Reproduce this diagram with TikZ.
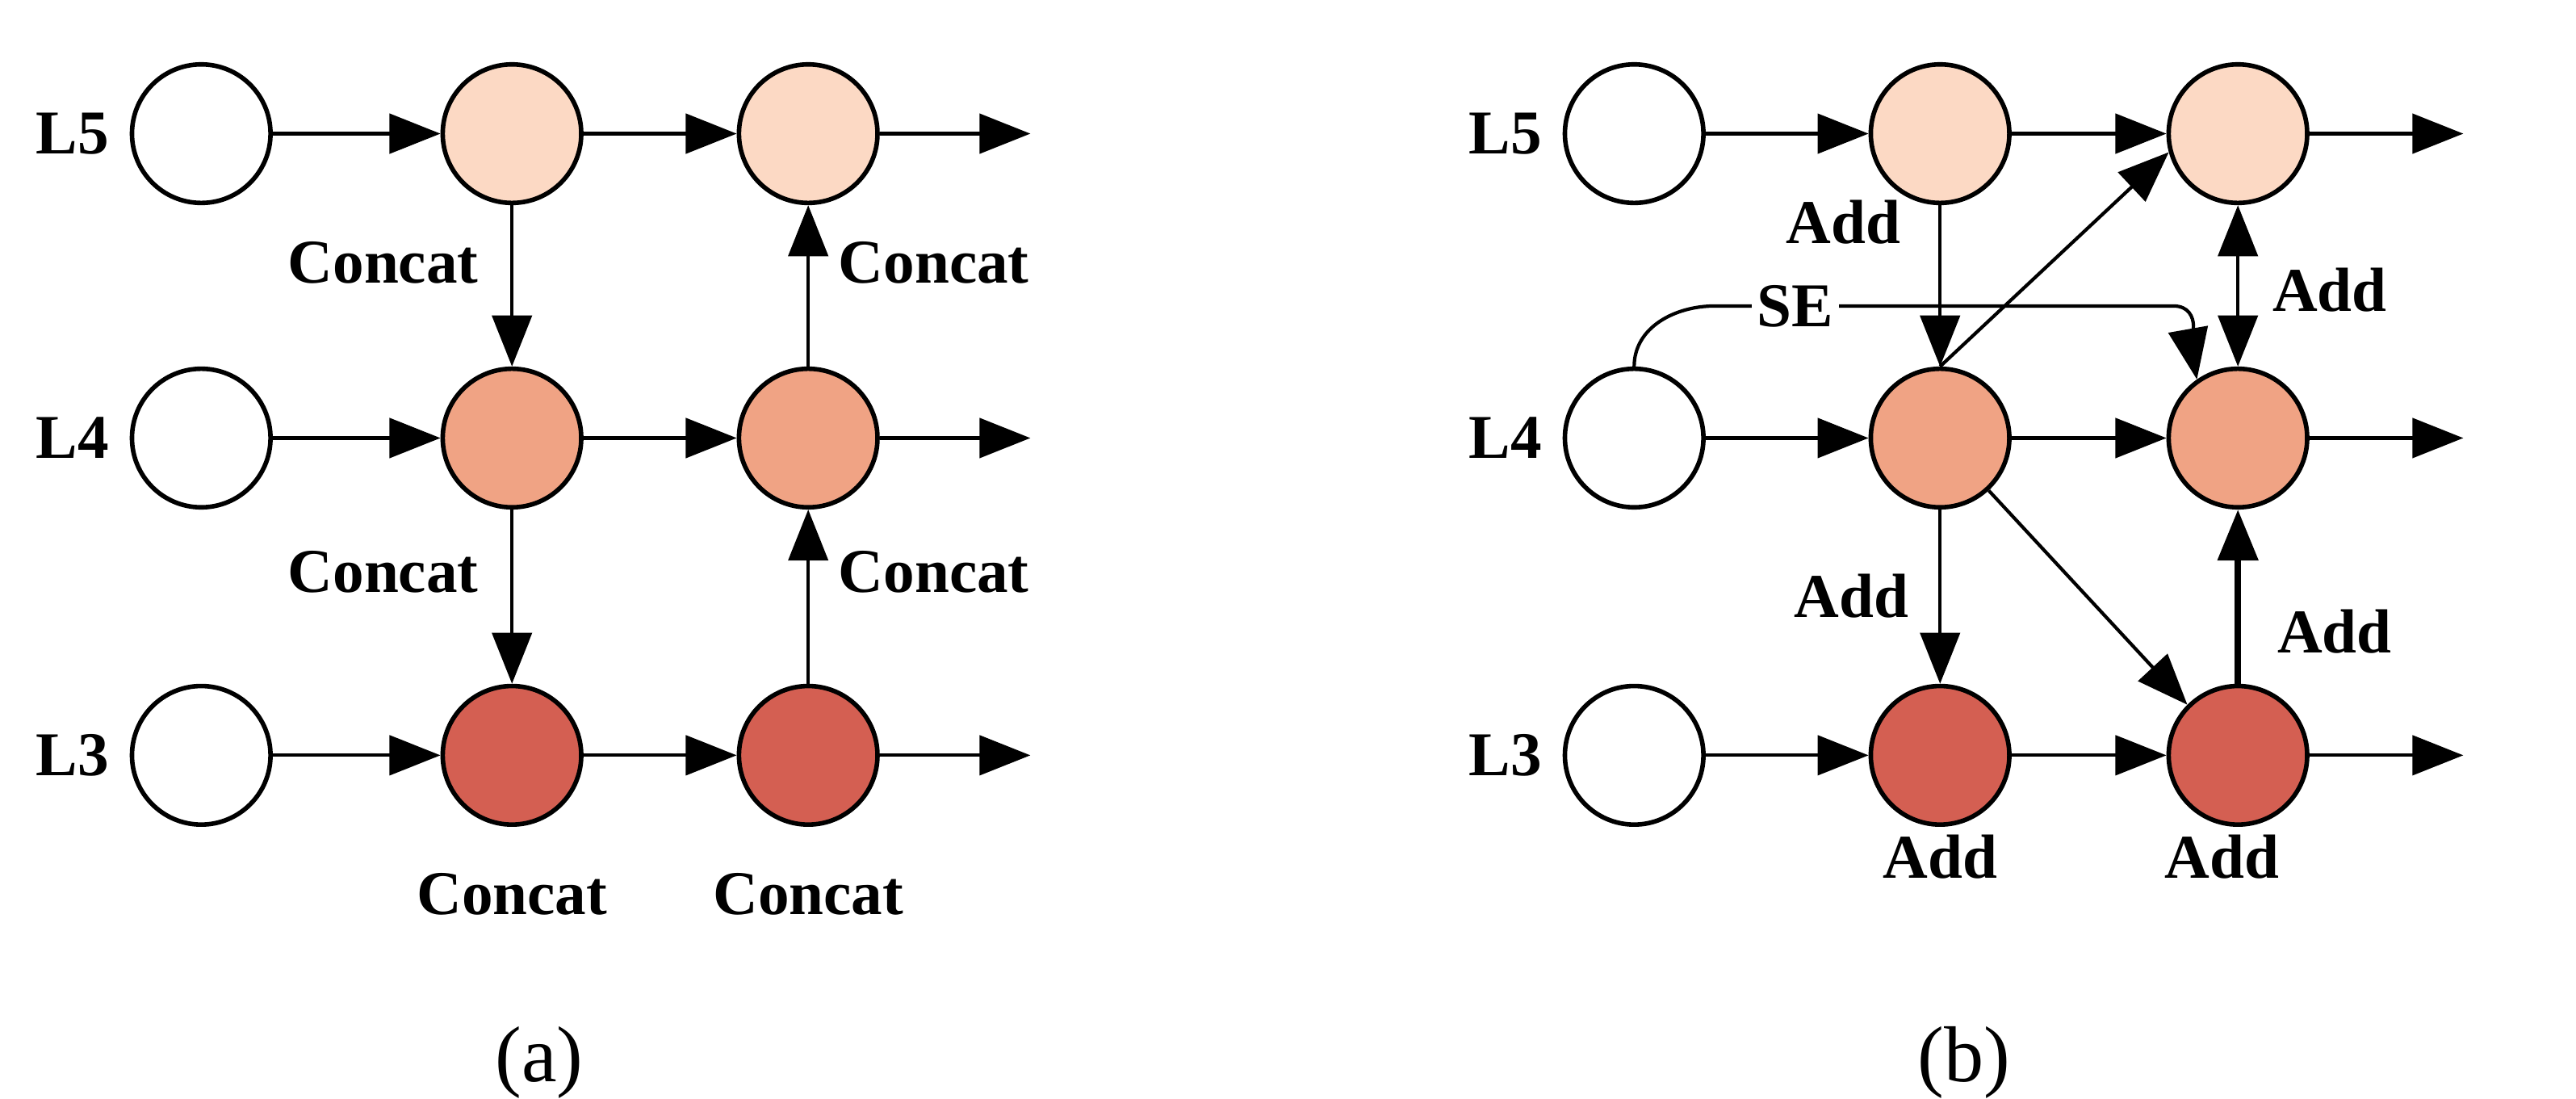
\documentclass[tikz,border=0pt]{standalone}
\usepackage{fontspec}
\setmainfont{Liberation Serif}
\usetikzlibrary{arrows.meta}
\definecolor{cfive}{HTML}{FCD9C4}
\definecolor{cfour}{HTML}{F0A384}
\definecolor{cthree}{HTML}{D45F52}
\begin{document}
\begin{tikzpicture}[x=0.01cm,y=-0.01cm]
\tikzset{
    blob/.style={circle, draw, thick, minimum size=0.86cm, inner sep=0pt},
    flow/.style={-{Triangle[length=9pt,width=7pt]}, semithick},
    lab/.style={font=\fontsize{11}{11}\selectfont\bfseries},
    sub/.style={font=\fontsize{14}{14}\selectfont}}
\useasboundingbox (0,0) rectangle (1600,682);

% left panel
\foreach \n/\y/\c in {5/83/cfive,4/272/cfour,3/469/cthree}{
    \node[lab] (aL\n) at (45,\y) {L\n};
    \node[blob] (a0\n) at (125,\y) {};
    \node[blob,fill=\c] (a1\n) at (318,\y) {};
    \node[blob,fill=\c] (a2\n) at (502,\y) {};
    \coordinate (aE\n) at (640,\y);
    \draw[flow] (a0\n) -- (a1\n);
    \draw[flow] (a1\n) -- (a2\n);
    \draw[flow] (a2\n) -- (aE\n);
}
\draw[flow] (a15) -- (a14);
\draw[flow] (a14) -- (a13);
\draw[flow] (a23) -- (a24);
\draw[flow] (a24) -- (a25);
\node[lab] (ca1) at (238,163) {Concat};
\node[lab] (ca2) at (238,355) {Concat};
\node[lab] (ca3) at (580,163) {Concat};
\node[lab] (ca4) at (580,355) {Concat};
\node[lab] (ca5) at (318,555) {Concat};
\node[lab] (ca6) at (502,555) {Concat};
\node[sub] (capa) at (335,660) {(a)};

% right panel
\foreach \n/\y/\c in {5/83/cfive,4/272/cfour,3/469/cthree}{
    \node[lab] (bL\n) at (935,\y) {L\n};
    \node[blob] (b0\n) at (1015,\y) {};
    \node[blob,fill=\c] (b1\n) at (1205,\y) {};
    \node[blob,fill=\c] (b2\n) at (1390,\y) {};
    \coordinate (bE\n) at (1530,\y);
    \draw[flow] (b0\n) -- (b1\n);
    \draw[flow] (b1\n) -- (b2\n);
    \draw[flow] (b2\n) -- (bE\n);
}
\draw[flow] (b15) -- (b14);
\draw[flow] (b14) -- (b13);
\draw[flow] (b14.north) -- (b25.-165);
\draw[flow] (b14) -- (b23.north west);
\draw[{Triangle[length=9pt,width=7pt]}-{Triangle[length=9pt,width=7pt]},semithick] (b25) -- (b24);
\draw[flow,very thick] (b23) -- (b24);
\draw[flow] (b04.north) to[out=90,in=180] (1065,190) -- (1350,190) to[out=0,in=100] (b24.125);
\node[lab,fill=white,inner sep=1pt] (se) at (1115,190) {SE};
\node[lab] (ad1) at (1145,138) {Add};
\node[lab] (ad2) at (1447,180) {Add};
\node[lab] (ad3) at (1150,370) {Add};
\node[lab] (ad4) at (1450,392) {Add};
\node[lab] (ad5) at (1205,532) {Add};
\node[lab] (ad6) at (1380,532) {Add};
\node[sub] (capb) at (1220,660) {(b)};
\end{tikzpicture}
\end{document}
